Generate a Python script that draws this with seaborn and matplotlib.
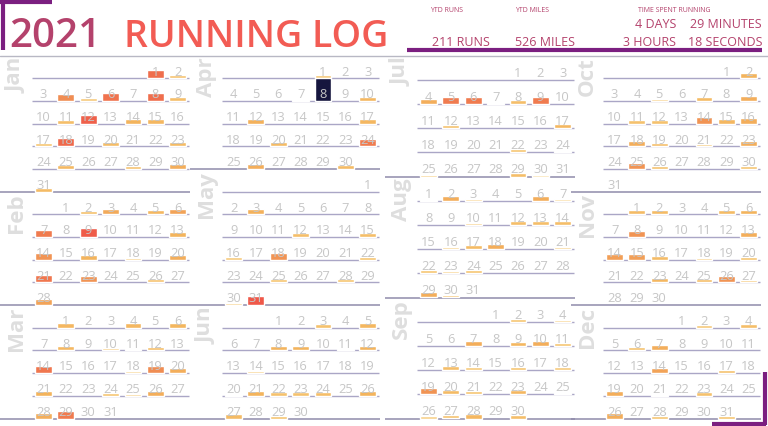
import matplotlib.pyplot as plt
import pandas as pd
import seaborn as sns
from matplotlib.colors import Normalize

sns.set_theme(style="white")
plt.rcParams['font.family'] = ['Open Sans', 'DejaVu Sans']

# miles run per day, keyed by day of month
jan = {1: 4.5, 2: 1.8, 4: 3.8, 5: 1.5, 6: 4.4, 8: 4.5, 9: 2.1, 11: 2.1, 12: 4.8, 14: 2.7,
       15: 2.5, 17: 1.7, 18: 4.6, 20: 2.2, 23: 2.3, 25: 2.4, 28: 1.8, 30: 2.9, 31: 2.3}
feb = {2: 2.0, 3: 3.0, 5: 2.5, 6: 3.2, 7: 4.2, 9: 4.9, 13: 2.7, 14: 3.6, 16: 2.7, 18: 1.2,
       20: 2.9, 21: 4.3, 23: 3.6, 26: 1.8, 28: 3.2}
mar = {1: 2.5, 4: 2.5, 6: 2.6, 8: 2.5, 10: 1.3, 11: 1.0, 12: 2.1, 14: 4.3, 18: 1.0, 19: 3.8,
       20: 2.9, 21: 2.7, 24: 1.7, 25: 1.1, 26: 2.9, 28: 2.9, 29: 4.2}
apr = {1: 1.7, 7: 0.7, 10: 2.5, 12: 2.8, 17: 2.5, 20: 2.3, 24: 4.2, 26: 2.9, 30: 2.3}
may = {3: 2.8, 12: 2.1, 15: 2.1, 16: 1.5, 18: 3.6, 22: 1.7, 25: 1.7, 28: 1.7, 30: 1.1, 31: 5.0}
jun = {3: 1.9, 5: 2.5, 8: 2.7, 9: 2.7, 11: 0.9, 12: 2.7, 14: 1.2, 20: 0.6, 21: 2.7, 22: 1.9,
       23: 1.9, 24: 2.1, 26: 2.7, 27: 2.3, 29: 1.7}
jul = {4: 2.9, 5: 4.2, 6: 4.2, 7: 0.6, 8: 2.1, 9: 4.2, 12: 1.9, 17: 2.5, 22: 1.7, 24: 0.6,
       25: 1.1, 29: 2.1, 30: 0.6}
aug = {1: 0.6, 2: 2.9, 3: 0.9, 6: 2.9, 7: 0.8, 10: 1.2, 12: 2.1, 13: 2.1, 14: 2.1, 16: 1.2,
       17: 2.3, 18: 2.9, 21: 1.2, 22: 1.7, 23: 1.2, 24: 1.7, 29: 2.9, 30: 1.7}
sep = {2: 1.7, 4: 1.1, 7: 2.9, 9: 2.5, 10: 2.9, 11: 1.7, 13: 2.1, 14: 1.5, 16: 1.7, 18: 1.5,
       19: 3.6, 20: 2.3, 21: 1.7, 23: 2.5, 25: 0.6, 26: 1.2, 27: 1.9, 28: 2.5, 30: 2.1}
oct_ = {2: 2.7, 5: 1.2, 7: 2.3, 9: 2.9, 11: 1.9, 12: 1.9, 14: 3.6, 15: 2.5, 16: 2.9, 18: 2.9,
        19: 2.1, 21: 1.5, 23: 2.9, 25: 3.6, 26: 1.9, 30: 1.7}
nov = {1: 2.3, 2: 2.3, 5: 2.3, 6: 2.7, 8: 3.6, 13: 2.9, 14: 3.3, 15: 3.3, 16: 2.3, 18: 1.2,
       20: 1.7, 23: 2.5, 25: 2.1, 26: 3.6, 27: 1.5}
dec = {2: 1.5, 4: 2.1, 6: 1.9, 7: 2.9, 14: 3.2, 17: 1.9, 19: 2.9, 21: 0.6, 23: 1.9, 26: 2.9,
       28: 1.7, 31: 1.7}

month_runs = [jan, feb, mar, apr, may, jun, jul, aug, sep, oct_, nov, dec]
month_names = ['Jan', 'Feb', 'Mar', 'Apr', 'May', 'Jun', 'Jul', 'Aug', 'Sep', 'Oct', 'Nov', 'Dec']
highlight_day = '2021-04-08'

ytd_runs = 211
ytd_miles = 526
time_spent = ['4 DAYS', '29 MINUTES', '3 HOURS', '18 SECONDS']

# calendar table: one row per day, sunday-first weeks, 3 months per column
df = pd.DataFrame({'date': pd.date_range('2021-01-01', '2021-12-31')})
df['month'] = df.date.dt.month
df['day'] = df.date.dt.day
df['wd'] = (df.date.dt.dayofweek + 1) % 7
first_wd = df.groupby('month').wd.transform('first')
df['week'] = (df.day + first_wd - 1) // 7
df['col'] = (df.month - 1) // 3
df['miles'] = [month_runs[m - 1].get(d, 0.0) for m, d in zip(df.month, df.day)]

nweeks = df.groupby('month').week.max() + 1
month_start = {}
for c in range(4):
    r = 0
    for m in range(3 * c + 1, 3 * c + 4):
        month_start[m] = r
        r += nweeks[m]
df['row'] = df.week + df.month.map(month_start)

cmap = sns.blend_palette(['#fae2b0', '#f6c673', '#f3b35c', '#f08a52', '#ef5849'], as_cmap=True)
norm = Normalize(0.5, 5.0)

W, H = 768, 426
fig = plt.figure(figsize=(W / 100, H / 100), dpi=100)

# header / frame overlay in pixel coords
bg = fig.add_axes([0, 0, 1, 1])
bg.set_xlim(0, W)
bg.set_ylim(H, 0)
bg.axis('off')
purple = '#7b1f80'
plum = '#b4426c'
bg.plot([3, 3], [0, 50], color=purple, lw=3, solid_capstyle='butt')
bg.plot([0, 52], [1.5, 1.5], color=purple, lw=3, solid_capstyle='butt')
bg.plot([765, 765], [372, 425], color=purple, lw=3, solid_capstyle='butt')
bg.plot([712, 766], [424, 424], color=purple, lw=3, solid_capstyle='butt')
bg.plot([407, 762], [50, 50], color=purple, lw=3, solid_capstyle='butt')
bg.plot([0, W], [55.5, 55.5], color='#b8b8c4', lw=1)

bg.text(9, 47, '2021', fontsize=29, fontweight='semibold', color=plum, va='baseline')
bg.text(124, 47, 'RUNNING LOG', fontsize=27, fontweight='semibold', color='#f25c54', va='baseline')

bg.text(430, 10, 'YTD RUNS', fontsize=5, color=plum, va='center')
bg.text(515, 10, 'YTD MILES', fontsize=5, color=plum, va='center')
bg.text(638, 10, 'TIME SPENT RUNNING', fontsize=5, color=plum, va='center')
fs = 9
bg.text(432, 46, f'{ytd_runs} RUNS', fontsize=fs, color=plum, va='baseline')
bg.text(515, 46, f'{ytd_miles} MILES', fontsize=fs, color=plum, va='baseline')
bg.text(676, 28, time_spent[0], fontsize=fs, color=plum, ha='right', va='baseline')
bg.text(762, 28, time_spent[1], fontsize=fs, color=plum, ha='right', va='baseline')
bg.text(676, 46, time_spent[2], fontsize=fs, color=plum, ha='right', va='baseline')
bg.text(762, 46, time_spent[3], fontsize=fs, color=plum, ha='right', va='baseline')

col_left = [0, 190, 385, 571]
top_px, bot_px = 55.5, 418.5
x0, x1 = -1.45, 7.05
for c in range(4):
    sub = df[df.col == c]
    nrows = sub.row.max() + 1
    ax = fig.add_axes([col_left[c] / W, (H - bot_px) / H, 190 / W, (bot_px - top_px) / H])
    ax.set_xlim(x0, x1)
    ax.set_ylim(nrows - 1, -1)
    ax.axis('off')
    ax.patch.set_alpha(0)
    row_px = (bot_px - top_px) / nrows
    scale = 1.75 / row_px  # rows per mile

    last_rows = set()
    for m in range(3 * c + 1, 3 * c + 4):
        start = month_start[m]
        last_rows.add(start + nweeks[m] - 1)
        ax.text(-0.72, start - 1 + 0.08, month_names[m - 1], rotation=90, ha='center', va='top',
                fontsize=16, fontweight='bold', color='#dedede', clip_on=True)
    for r in range(nrows):
        if r in last_rows:
            ax.hlines(r, x0, x1, color='#8f8bab', lw=1.1, clip_on=False)
        else:
            ax.hlines(r, 0, 7, color='#aaa6c6', lw=1, clip_on=False)

    runs = sub[sub.miles > 0]
    h = runs.miles * scale
    ax.bar(runs.wd + 0.5, h, bottom=runs.row - h, width=0.76,
           color=cmap(norm(runs.miles)), zorder=2, clip_on=False)

    hl = sub[sub.date == highlight_day]
    if len(hl):
        ax.bar(hl.wd + 0.5, 1, bottom=hl.row - 1, width=0.76, color='#16163e', zorder=2.5)

    for _, d in sub.iterrows():
        ax.text(d.wd + 0.5, d.row - 0.27, str(d.day), ha='center', va='center',
                fontsize=9.3, color='#c6c6c6', zorder=3)

fig.savefig('out.png', dpi=100)
